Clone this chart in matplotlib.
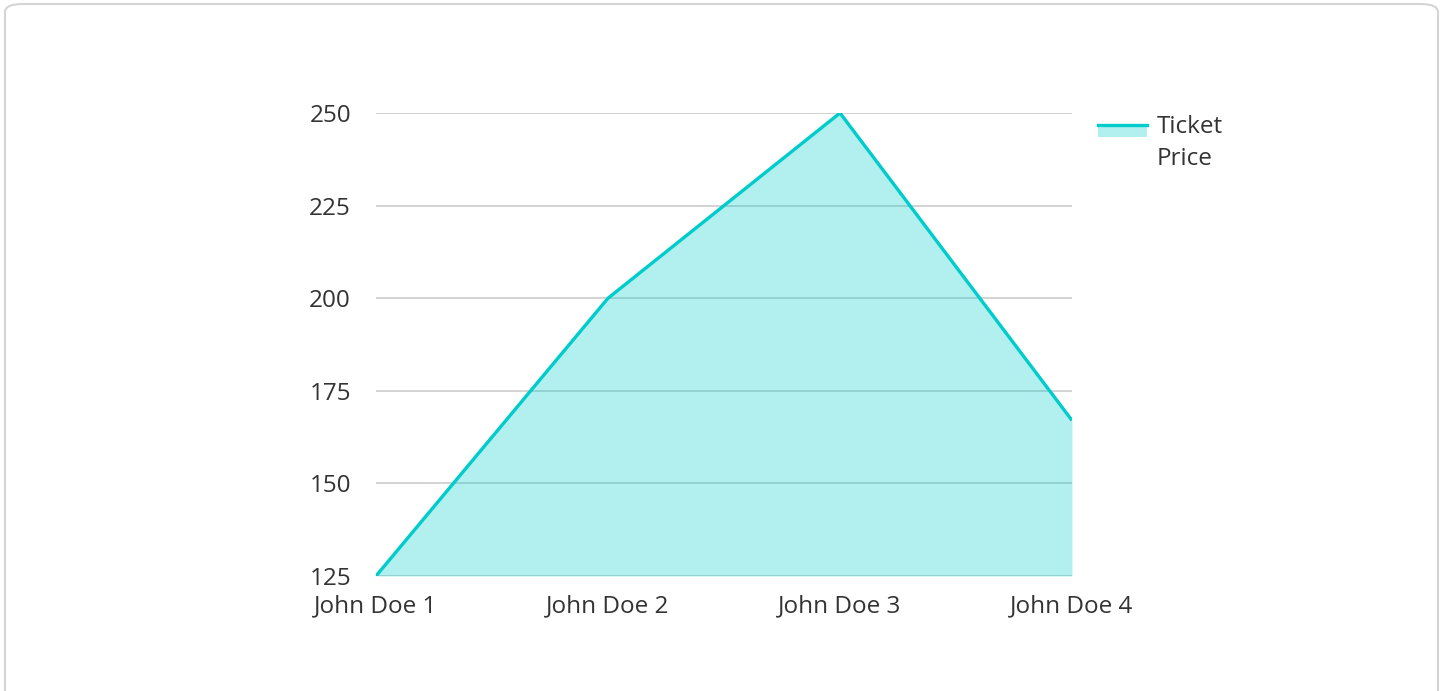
import matplotlib
matplotlib.use("Agg")
import matplotlib.pyplot as plt
from matplotlib.patches import FancyBboxPatch, Rectangle
from matplotlib.lines import Line2D
from matplotlib.legend_handler import HandlerBase

categories = ["John Doe 1", "John Doe 2", "John Doe 3", "John Doe 4"]
ticket_price = [125, 200, 250, 167]
y_ticks = [125, 150, 175, 200, 225, 250]
series_name = "Ticket\nPrice"

LINE = "#00cccc"
FILL = "#00cccc"
TEXT = "#333333"
FS = 17.5

plt.rcParams['font.family'] = ['Open Sans', 'DejaVu Sans']

fig = plt.figure(figsize=(14.45, 6.91), dpi=100)
# outer rounded border
border = FancyBboxPatch((5 / 1445, -20 / 691), 1433 / 1445, (691 - 4 + 20) / 691,
                        boxstyle="round,pad=0,rounding_size=0.012",
                        transform=fig.transFigure, fill=False,
                        edgecolor="#d4d4d4", linewidth=1.5)
fig.patches.append(border)

ax = fig.add_axes([376 / 1445, 1 - 576 / 691, (1072 - 376) / 1445, (576 - 113) / 691])
x = list(range(len(categories)))
ax.fill_between(x, ticket_price, y_ticks[0], color=FILL, alpha=0.3, linewidth=0, zorder=2)
ax.plot(x, ticket_price, color=LINE, linewidth=2.4, zorder=3, solid_capstyle="butt")

ax.set_xlim(0, len(categories) - 1)
ax.set_ylim(y_ticks[0], y_ticks[-1])
ax.set_yticks(y_ticks)
ax.set_xticks(x)
ax.set_xticklabels(categories)
for s in ax.spines.values():
    s.set_visible(False)
ax.grid(axis="y", color="#c8c8c8", linewidth=1.1, zorder=1)
ax.set_axisbelow(True)
ax.tick_params(axis="y", length=0, pad=18, labelsize=FS, labelcolor=TEXT)
ax.tick_params(axis="x", length=0, pad=13, labelsize=FS, labelcolor=TEXT)


class AreaLineHandler(HandlerBase):
    def create_artists(self, legend, orig_handle, xdescent, ydescent, width, height, fontsize, trans):
        top = height * 0.95 + 8.0
        rect = Rectangle((-xdescent, -ydescent + top - 8.6), width, 8.6,
                         facecolor=FILL, alpha=0.3, edgecolor="none", transform=trans)
        line = Line2D([-xdescent, -xdescent + width], [-ydescent + top, -ydescent + top],
                      color=LINE, linewidth=2.4, transform=trans)
        return [rect, line]


handle = object()
leg = fig.legend([handle], [series_name], handler_map={object: AreaLineHandler()},
                 loc="upper left", bbox_to_anchor=(1098 / 1445, 1 - 115 / 691),
                 frameon=False, fontsize=FS, handlelength=2.0, handleheight=0.7,
                 handletextpad=0.42, labelcolor=TEXT, borderaxespad=0, borderpad=0)
for t in leg.get_texts():
    t.set_linespacing(1.45)

fig.savefig("out.png", dpi=100)
